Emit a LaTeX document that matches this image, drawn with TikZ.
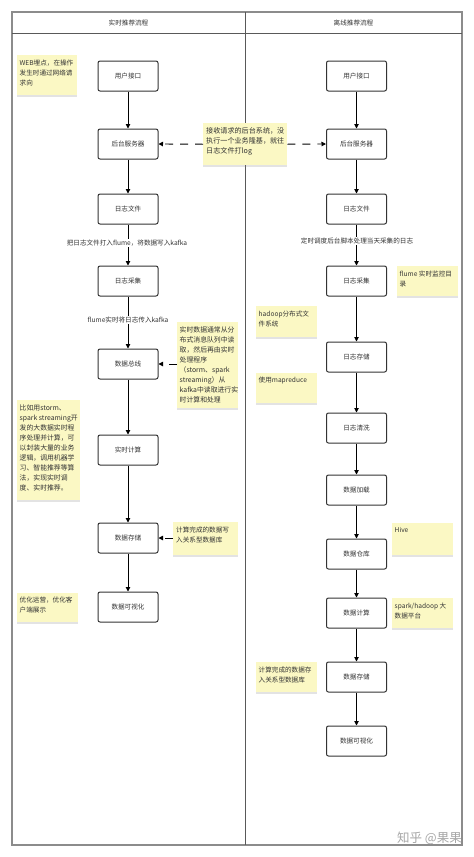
\documentclass[tikz,border=0pt]{standalone}
\usepackage{fontspec}
\setmainfont{Noto Sans CJK SC}
\usetikzlibrary{arrows.meta,shadows,calc}
\definecolor{notey}{RGB}{251,248,196}
\definecolor{ink}{RGB}{51,51,51}
\newcommand{\fsz}[1]{\fontsize{#1}{10}\selectfont}
\begin{document}
\begin{tikzpicture}[x=1pt,y=-1pt,
  box/.style={draw=ink, line width=1pt, rounded corners=2pt, minimum width=60pt, minimum height=30pt, inner sep=0pt, font=\fsz{6.6}, text=ink, fill=white},
  flow/.style={draw=black, line width=0.9pt, -{Triangle[length=4.5pt,width=4.5pt]}},
  dflow/.style={draw=black, line width=0.9pt, dash pattern=on 8pt off 7pt, -{Triangle[length=4.5pt,width=4.5pt]}},
  lab/.style={fill=white, inner sep=1pt, font=\fsz{6.6}, text=ink},
  note/.style={fill=notey, draw=none, inner sep=0pt, anchor=north west, drop shadow={shadow xshift=0pt, shadow yshift=-2pt, opacity=0.22}},
  notetxt/.style={anchor=north west, inner sep=0pt, align=left, text=ink, font=\fsz{6.6}},
  head/.style={font=\fsz{6.6}, text=ink}
]
\useasboundingbox (0,0) rectangle (474,857);
% frame
\draw[draw=black!45, line width=1.4pt] (12,12) rectangle (462,845);
\draw[draw=black!65, line width=0.9pt] (12,33) -- (462,33);
\draw[draw=black!65, line width=0.9pt] (245,12) -- (245,845);
\node[head] (h1) at (128.5,23) {实时推荐流程};
\node[head] (h2) at (353.5,23) {离线推荐流程};

% left column
\node[box] (L1) at (128,76) {用户接口};
\node[box] (L2) at (128,144) {后台服务器};
\node[box] (L3) at (128,209) {日志文件};
\node[box] (L4) at (128,281) {日志采集};
\node[box] (L5) at (128,364) {数据总线};
\node[box] (L6) at (128,450) {实时计算};
\node[box] (L7) at (128,538) {数据存储};
\node[box] (L8) at (128,607) {数据可视化};
\draw[flow] (L1) -- (L2);
\draw[flow] (L2) -- (L3);
\draw[flow] (L3) -- (L4);
\draw[flow] (L4) -- (L5);
\draw[flow] (L5) -- (L6);
\draw[flow] (L6) -- (L7);
\draw[flow] (L7) -- (L8);
\node[lab] (lab1) at (127,243) {把日志文件打入flume，将数据写入kafka};
\node[lab] (lab2) at (128,320) {flume实时将日志传入kafka};

% right column
\node[box] (R1) at (356.5,76) {用户接口};
\node[box] (R2) at (356.5,144) {后台服务器};
\node[box] (R3) at (356.5,209) {日志文件};
\node[box] (R4) at (356.5,281) {日志采集};
\node[box] (R5) at (356.5,357) {日志存储};
\node[box] (R6) at (356.5,428) {日志清洗};
\node[box] (R7) at (356.5,490) {数据加载};
\node[box] (R8) at (356.5,554) {数据仓库};
\node[box] (R9) at (356.5,613) {数据计算};
\node[box] (R10) at (356.5,677) {数据存储};
\node[box] (R11) at (356.5,741) {数据可视化};
\foreach \a/\b in {R1/R2,R2/R3,R3/R4,R4/R5,R5/R6,R6/R7,R7/R8,R8/R9,R9/R10,R10/R11}
  \draw[flow] (\a) -- (\b);
\node[lab] (lab3) at (357,241) {定时调度后台脚本处理当天采集的日志};

% notes
\node[note, minimum width=60pt, minimum height=40pt] (N1) at (17,55) {};
\node[notetxt] (T1) at ($(N1.north west)+(2.5,4.5)$) {WEB埋点，在操作\\发生时通过网络请\\求向};

\node[note, minimum width=84pt, minimum height=42pt] (N2) at (203,123) {};
\node[notetxt, font=\fsz{7.1}] (T2) at ($(N2.north west)+(3,4.5)$) {接收请求的后台系统，没\\执行一个业务隆基，就往\\日志文件打log};

\node[note, minimum width=61pt, minimum height=86pt] (N3) at (177,322) {};
\node[notetxt, font=\fsz{6.85}] (T3) at ($(N3.north west)+(2.5,4.5)$) {实时数据通常从分\\布式消息队列中读\\取，然后再由实时\\处理程序\\（storm、spark\\streaming）从\\kafka中读取进行实\\时计算和处理};

\node[note, minimum width=63pt, minimum height=100pt] (N4) at (17,400) {};
\node[notetxt, font=\fsz{6.85}] (T4) at ($(N4.north west)+(2.5,4.5)$) {比如用storm、\\spark streaming开\\发的大数据实时程\\序处理并计算，可\\以封装大量的业务\\逻辑，调用机器学\\习、智能推荐等算\\法，实现实时调\\度、实时推荐。};

\node[note, minimum width=65pt, minimum height=33pt] (N5) at (173,521.5) {};
\node[notetxt] (T5) at ($(N5.north west)+(3,5)$) {计算完成的数据写\\入关系型数据库};

\node[note, minimum width=61pt, minimum height=29pt] (N6) at (17,593) {};
\node[notetxt] (T6) at ($(N6.north west)+(2.5,3.5)$) {优化运营，优化客\\户端展示};

\node[note, minimum width=61pt, minimum height=30pt] (N7) at (397,266) {};
\node[notetxt] (T7) at ($(N7.north west)+(2.5,4.5)$) {flume 实时监控目\\录};

\node[note, minimum width=61pt, minimum height=31pt] (N8) at (256,306) {};
\node[notetxt] (T8) at ($(N8.north west)+(2.5,4.5)$) {hadoop分布式文\\件系统};

\node[note, minimum width=61pt, minimum height=30pt] (N9) at (256,373) {};
\node[notetxt] (T9) at ($(N9.north west)+(2.5,4)$) {使用mapreduce};

\node[note, minimum width=61pt, minimum height=32pt] (N10) at (392,523) {};
\node[notetxt] (T10) at ($(N10.north west)+(2.5,4.5)$) {Hive};

\node[note, minimum width=61pt, minimum height=30pt] (N11) at (392,598) {};
\node[notetxt] (T11) at ($(N11.north west)+(2.5,4.5)$) {spark/hadoop 大\\数据平台};

\node[note, minimum width=61pt, minimum height=30pt] (N12) at (256,662) {};
\node[notetxt] (T12) at ($(N12.north west)+(2.5,4.5)$) {计算完成的数据存\\入关系型数据库};

% dashed connectors
\draw[dflow] (N2.west) -- (L2.east);
\draw[dflow] (N2.east) -- (R2.west);
\draw[dflow] (N3.west |- L5.east) -- (L5.east);
\draw[dflow] (N5.west |- L7.east) -- (L7.east);

% watermark
\node[anchor=south east, inner sep=0pt, text=black!35, font=\fontsize{12.5}{13}\selectfont] (wm) at (462,845) {知乎 @果果};
\end{tikzpicture}
\end{document}
